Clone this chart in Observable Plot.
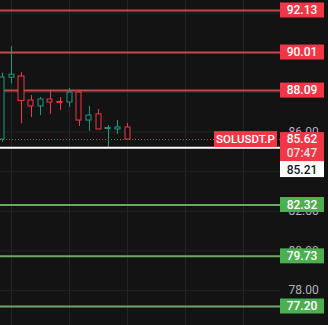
<!DOCTYPE html>
<html><head><meta charset="utf-8">
<script src="https://cdn.jsdelivr.net/npm/d3@7"></script>
<script src="https://cdn.jsdelivr.net/npm/@observablehq/plot@0.6"></script>
<style>
html,body{margin:0;padding:0;background:#131313;overflow:hidden}
svg{display:block}
</style></head><body><div id="chart"></div>
<script>
// ---- data ----
const candleIndex = [0,1,2,3,4,5,6,7,8,9,10,11,12,13];
const opens  = [85.62, 88.74, 88.80, 87.59, 87.29, 87.64, 87.52, 87.49, 87.99, 86.58, 86.89, 86.15, 86.13, 86.23];
const highs  = [88.97, 90.31, 88.99, 87.84, 87.74, 88.04, 87.74, 88.20, 88.04, 87.29, 87.14, 86.33, 86.58, 86.43];
const lows   = [85.48, 88.43, 86.41, 86.73, 86.83, 86.89, 87.09, 87.24, 86.28, 86.03, 86.13, 85.17, 85.88, 85.62];
const closes = [88.75, 88.89, 87.57, 87.29, 87.64, 87.49, 87.47, 87.99, 86.58, 86.83, 86.13, 86.20, 86.23, 85.62];
const redLevels = [92.13, 90.01, 88.09];
const greenLevels = [82.32, 79.73, 77.20];
const currentPrice = 85.62;
const countdown = "07:47";
const bidPrice = 85.21;
const ticker = "SOLUSDT.P";
const yTicks = [78, 80, 82, 84, 86, 88, 90, 92];
const yTickLabelsShown = [78, 80, 82, 86]; // the others sit fully under price tags
const xGridIndex = [1, 7, 13, 19, 25];

// ---- styles ----
const BG = "#131313";
const GRID = "#242424";
const UP = "#1a9c83";
const DOWN = "#f23645";
const RED_LINE = "#c8474f";
const GREEN_LINE = "#6ca865";
const RED_TAG = "#f23645";
const GREEN_TAG = "#4caf50";
const FONT = "Roboto, 'Liberation Sans', sans-serif";

const candles = candleIndex.map((i, k) => ({
  i, open: opens[k], high: highs[k], low: lows[k], close: closes[k],
  up: closes[k] >= opens[k]
}));
const candleColor = d => d.up ? UP : DOWN;

const tags = (index, scales, values, dims) => {
  const y = scales.y;
  const xr = dims.width - dims.marginRight;
  const bw = 44, cx = xr + 22;
  const g = d3.create("svg:g").attr("font-family", FONT).attr("font-size", 12).attr("font-weight", 500);
  const box = (x, top, w, h, fill) => g.append("rect").attr("x", x).attr("y", top)
      .attr("width", w).attr("height", h).attr("fill", fill);
  const txt = (x, yc, t, fill, size = 12) => g.append("text").attr("x", x).attr("y", yc)
      .attr("dy", "0.36em").attr("text-anchor", "middle").attr("fill", fill)
      .attr("font-size", size).text(t);
  for (const v of redLevels) { const yy = y(v); box(xr, yy - 7.5, bw, 15, RED_TAG); txt(cx, yy, v.toFixed(2), "#ffffff"); }
  for (const v of greenLevels) { const yy = y(v); box(xr, yy - 7.5, bw, 15, GREEN_TAG); txt(cx, yy, v.toFixed(2), "#ffffff"); }
  const yc = y(currentPrice);
  box(xr, yc - 7, bw, 29, RED_TAG);
  txt(cx, yc, currentPrice.toFixed(2), "#ffffff");
  txt(cx, yc + 13.5, countdown, "#ffe1e4");
  box(xr, yc + 22, bw, 16, "#ffffff");
  txt(cx, yc + 30.5, bidPrice.toFixed(2), "#131722");
  box(xr - 66, yc - 8, 63, 16, RED_TAG);
  txt(xr - 34.5, yc, ticker, "#ffffff", 11.5);
  return g.node();
};

const chart = Plot.plot({
  width: 328, height: 325,
  marginTop: 0, marginBottom: 0, marginLeft: 0, marginRight: 48,
  style: {background: BG, fontFamily: FONT, fontSize: "12px", overflow: "visible"},
  x: {domain: [-0.176, 28.84], axis: null, round: true},
  y: {domain: [76.242, 92.634], axis: null},
  marks: [
    Plot.gridX(xGridIndex, {stroke: GRID, strokeOpacity: 1}),
    Plot.gridY(yTicks, {stroke: GRID, strokeOpacity: 1}),
    Plot.axisY(yTickLabelsShown, {anchor: "right", tickSize: 0, tickPadding: 8, tickFormat: d => d.toFixed(2),
      fill: "#b2b5be", fontSize: 12}),
    Plot.ruleY(redLevels, {stroke: RED_LINE, strokeWidth: 2}),
    Plot.ruleY(greenLevels, {stroke: GREEN_LINE, strokeWidth: 2}),
    Plot.ruleX(candles, {x: "i", y1: "low", y2: "high", stroke: candleColor, strokeWidth: 1}),
    Plot.rect(candles, {x1: d => d.i - 0.26, x2: d => d.i + 0.26, y1: "open", y2: "close",
      fill: BG, stroke: candleColor, strokeWidth: 1}),
    Plot.ruleY([currentPrice], {stroke: DOWN, strokeWidth: 1, strokeDasharray: "1,2"}),
    Plot.ruleY([bidPrice], {stroke: "#ffffff", strokeWidth: 2}),
    tags
  ]
});
document.getElementById("chart").appendChild(chart);
</script></body></html>
